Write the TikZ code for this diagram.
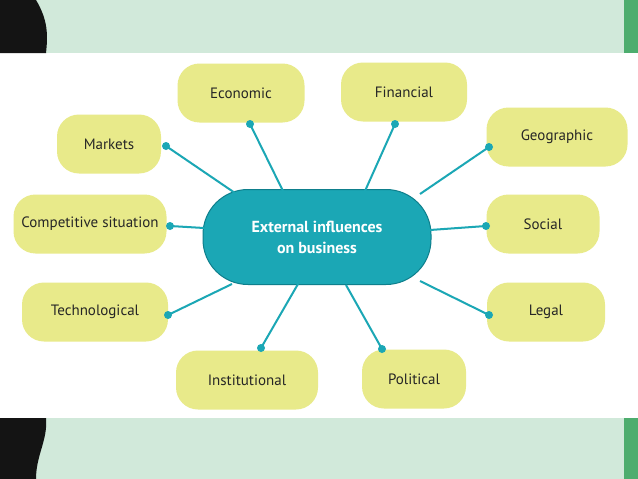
\documentclass[tikz,border=0pt]{standalone}
\usepackage{fontspec}
\setmainfont{PT Sans}
\definecolor{bgg}{HTML}{D1E9DA}
\definecolor{barg}{HTML}{4DAD6E}
\definecolor{yel}{HTML}{E8EA8A}
\definecolor{tl}{HTML}{1BA7B5}
\definecolor{tld}{HTML}{0E7F8C}
\begin{document}
\begin{tikzpicture}[x=1pt,y=-1pt,
 box/.style={fill=yel,rounded corners=22pt,minimum height=59pt,font=\fontsize{15}{17}\selectfont,text=black!85},
 link/.style={draw=tl,line width=2pt},
 dot/.style={circle,fill=tl,inner sep=0pt,minimum size=8pt}]
\useasboundingbox (0,0) rectangle (638,479);
\fill[bgg] (0,0) rectangle (638,479);
\fill[white] (0,53) rectangle (638,418);
\fill[barg] (624,0) rectangle (638,53);
\fill[barg] (624,418) rectangle (638,479);
\fill[black!92] (0,0) -- (36,0) .. controls (48,20) and (48,35) .. (46,53) -- (0,53) -- cycle;
\fill[black!92] (0,418) -- (46,418) .. controls (48,440) and (36,455) .. (36,479) -- (0,479) -- cycle;
\node[fill=tl,draw=tld,line width=1pt,rounded corners=45pt,minimum width=228pt,minimum height=95pt,text=white,font=\fontsize{16}{21}\selectfont\bfseries,align=center] (c) at (317,237) {External influences\\on business};
\node[box,minimum width=127pt] (eco) at (241,93) {Economic};
\node[box,minimum width=126pt] (fin) at (404,92) {Financial};
\node[box,minimum width=104pt] (mkt) at (109,144) {Markets};
\node[box,minimum width=141pt] (geo) at (557,137) {Geographic};
\node[box,minimum width=153pt] (comp) at (90,224) {Competitive situation};
\node[box,minimum width=113pt] (soc) at (543,224) {Social};
\node[box,minimum width=146pt] (tech) at (95,312) {Technological};
\node[box,minimum width=118pt] (leg) at (546,312) {Legal};
\node[box,minimum width=142pt] (inst) at (247,380) {Institutional};
\node[box,minimum width=104pt] (pol) at (414,379) {Political};
\node[dot] (d1) at (250,124) {};
\node[dot] (d2) at (395,124) {};
\node[dot] (d3) at (166,146) {};
\node[dot] (d4) at (489,147) {};
\node[dot] (d5) at (170,226) {};
\node[dot] (d6) at (486,226) {};
\node[dot] (d7) at (168,315) {};
\node[dot] (d8) at (489,315) {};
\node[dot] (d9) at (261,348) {};
\node[dot] (d10) at (382,349) {};
\coordinate (e1) at (283,191);
\coordinate (e2) at (365,191);
\coordinate (e3) at (235,193);
\coordinate (e4) at (420,194);
\coordinate (e5) at (204,228);
\coordinate (e6) at (430,230);
\coordinate (e7) at (232,284);
\coordinate (e8) at (420,281);
\coordinate (e9) at (298,284);
\coordinate (e10) at (346,285);
\foreach \i in {1,...,10}{\draw[link] (d\i.center) -- (e\i);}
\end{tikzpicture}
\end{document}
